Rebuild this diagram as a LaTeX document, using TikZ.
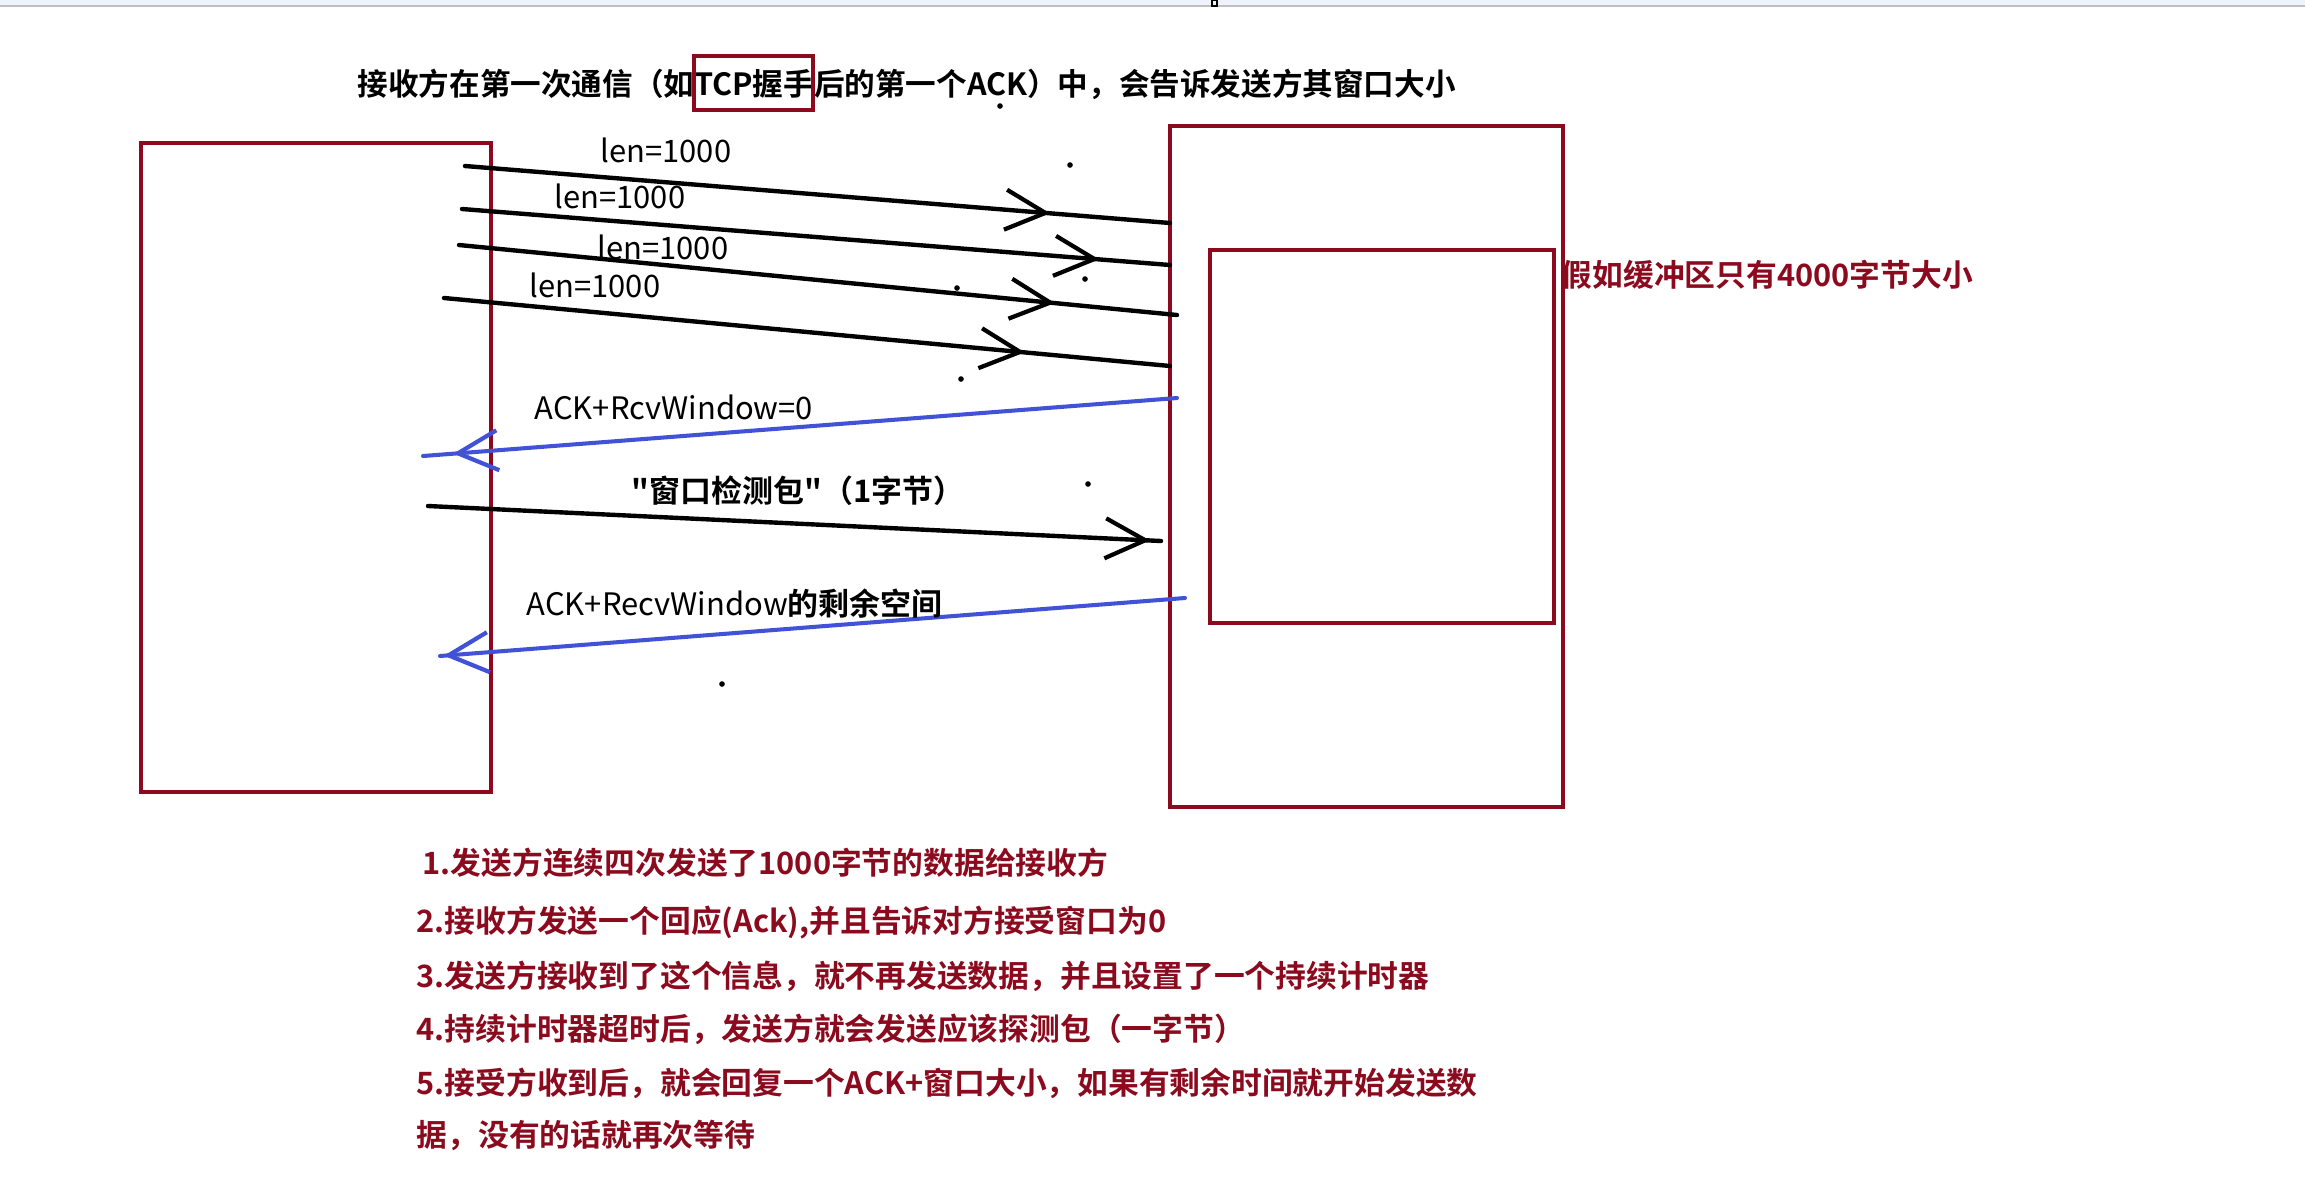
\documentclass[tikz,border=0pt]{standalone}
\usepackage{fontspec}
\setmainfont{Noto Sans CJK SC}[BoldFont={Noto Sans CJK SC Bold}, Ligatures=TeXOff]
\usetikzlibrary{arrows.meta,decorations.markings}
\definecolor{boxred}{RGB}{139,10,30}
\definecolor{ackblue}{RGB}{66,82,214}
\definecolor{barbg}{RGB}{238,242,250}
\tikzset{
    hostbox/.style={draw=boxred, line width=1pt},
    data line/.style={black, line width=1.25pt, line cap=round},
    ack line/.style={ackblue, line width=1.15pt, line cap=round},
    midhead/.style={
        postaction=decorate,
        decoration={markings,
        mark=at position #1 with {\arrow[line width=1.2pt]{Straight Barb[length=0.40cm,width=0.40cm]}}
        }
    },
    seglabel/.style={font=\fontsize{8.8}{10}\selectfont, inner sep=0pt},
    note/.style={font=\fontsize{8.75}{10}\selectfont\bfseries, text=boxred, inner sep=0pt, anchor=west},
    speck/.style={fill=black, inner sep=0pt, minimum size=1.6pt, circle}
}
\begin{document}
\begin{tikzpicture}[x=0.01cm, y=-0.01cm]
    \useasboundingbox (0,0) rectangle (2305,1181);
    % top bar of the window
    \fill[barbg] (0,0) rectangle (2305,6);
    \draw[black!25, line width=0.4pt] (0,6) -- (2305,6);
    \draw[black, line width=0.5pt] (1212,0) rectangle (1217,6);

    % title
    \node[seglabel, font=\fontsize{8.7}{10}\selectfont\bfseries, anchor=west] (title) at (357,84)
        {接收方在第一次通信（如TCP握手后的第一个ACK）中，会告诉发送方其窗口大小};
    \draw[hostbox] (694,56) rectangle (813,110);

    % sender and receiver
    \draw[hostbox] (141,143) rectangle (491,792);
    \draw[hostbox] (1170,126) rectangle (1563,807);
    \draw[hostbox] (1210,250) rectangle (1554,623);
    \node[note] (buf) at (1561,275) {假如缓冲区只有4000字节大小};

    % end points of the segments
    \coordinate (S1) at (465,166);  \coordinate (R1) at (1170,223);
    \coordinate (S2) at (462,209);  \coordinate (R2) at (1170,265);
    \coordinate (S3) at (459,245);  \coordinate (R3) at (1177,315);
    \coordinate (S4) at (444,298);  \coordinate (R4) at (1170,366);
    \coordinate (R5) at (1177,398); \coordinate (S5) at (423,456);
    \coordinate (S6) at (428,506);  \coordinate (R6) at (1161,541);
    \coordinate (R7) at (1185,598); \coordinate (S7) at (440,656);

    \draw[data line, midhead=0.83] (S1) -- (R1);
    \draw[data line, midhead=0.90] (S2) -- (R2);
    \draw[data line, midhead=0.83] (S3) -- (R3);
    \draw[data line, midhead=0.80] (S4) -- (R4);
    \draw[ack line, midhead=0.96] (R5) -- (S5);
    \draw[data line, midhead=0.985] (S6) -- (R6);
    \draw[ack line, midhead=0.995] (R7) -- (S7);

    \node[seglabel] (len1) at (666,150) {len=1000};
    \node[seglabel] (len2) at (620,196) {len=1000};
    \node[seglabel] (len3) at (663,247) {len=1000};
    \node[seglabel] (len4) at (595,285) {len=1000};
    \node[seglabel, anchor=west] (ack0) at (534,407) {ACK+RcvWindow=0};
    \node[seglabel, font=\fontsize{8.8}{10}\selectfont\bfseries] (probe) at (798,491) {"窗口检测包"（1字节）};
    \node[seglabel, anchor=west] (ackwin) at (526,604) {ACK+RecvWindow\textbf{的剩余空间}};

    % stray specks
    \foreach \px/\py in {1000/106, 1070/165, 1085/279, 957/288, 961/379, 1088/484, 722/684}
        \node[speck] at (\px,\py) {};

    % steps
    \node[note] (n1) at (422,863) {1.发送方连续四次发送了1000字节的数据给接收方};
    \node[note] (n2) at (416,923) {2.接收方发送一个回应(Ack),并且告诉对方接受窗口为0};
    \node[note] (n3) at (416,976) {3.发送方接收到了这个信息，就不再发送数据，并且设置了一个持续计时器};
    \node[note] (n4) at (416,1029) {4.持续计时器超时后，发送方就会发送应该探测包（一字节）};
    \node[note] (n5) at (416,1083) {5.接受方收到后，就会回复一个ACK+窗口大小，如果有剩余时间就开始发送数};
    \node[note] (n6) at (416,1135) {据，没有的话就再次等待};
\end{tikzpicture}
\end{document}
